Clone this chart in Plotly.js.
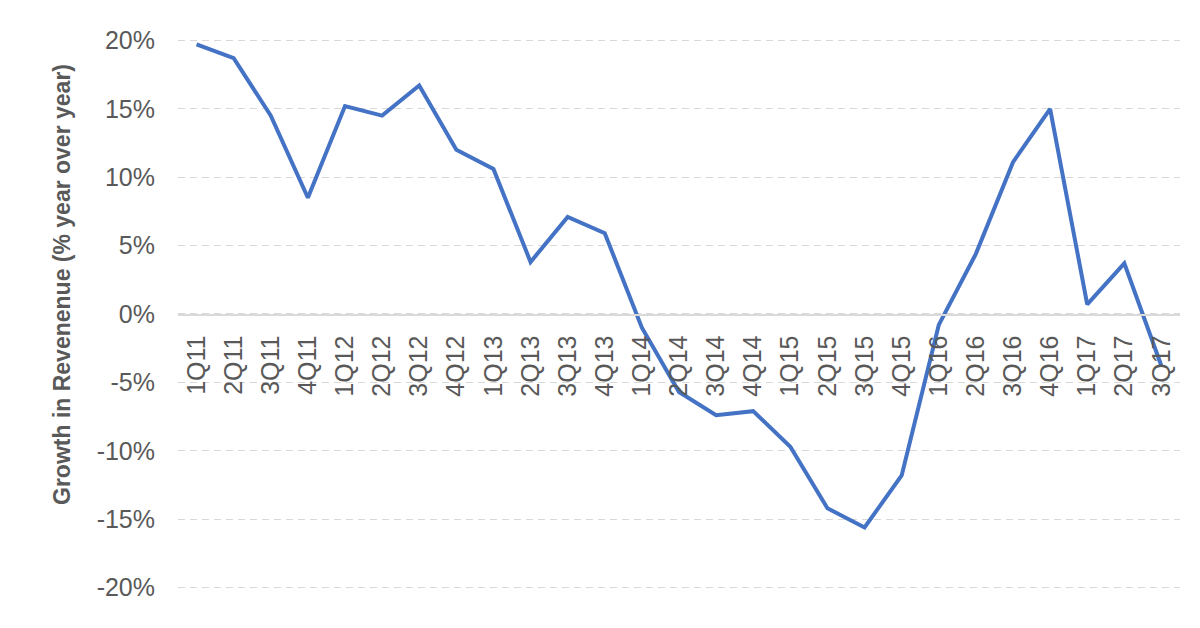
<!DOCTYPE html>
<html>
<head>
<meta charset="utf-8">
<script src="https://cdn.plot.ly/plotly-3.0.1.min.js"></script>
<style>
  html, body { margin: 0; padding: 0; background: #fff; }
  #chart { width: 1200px; height: 628px; }
</style>
</head>
<body>
<div id="chart"></div>
<script>
"use strict";

// Quarters, 1Q11 .. 3Q17
const quarters = [
  "1Q11", "2Q11", "3Q11", "4Q11",
  "1Q12", "2Q12", "3Q12", "4Q12",
  "1Q13", "2Q13", "3Q13", "4Q13",
  "1Q14", "2Q14", "3Q14", "4Q14",
  "1Q15", "2Q15", "3Q15", "4Q15",
  "1Q16", "2Q16", "3Q16", "4Q16",
  "1Q17", "2Q17", "3Q17",
];

// Revenue growth, % year over year
const growth = [
  19.7, 18.7, 14.5, 8.5,
  15.2, 14.5, 16.7, 12.0,
  10.6, 3.8, 7.1, 5.9,
  -1.0, -5.7, -7.4, -7.1,
  -9.7, -14.2, -15.6, -11.8,
  -0.8, 4.4, 11.1, 15.0,
  0.7, 3.7, -3.8,
];

const yTicks = [-20, -15, -10, -5, 0, 5, 10, 15, 20];
const yTickText = yTicks.map((v) => v + "%");

const LINE = "#4472C4";
const TEXT = "#595959";
const GRID = "#d9d9d9";

const trace = {
  type: "scatter",
  mode: "lines",
  x: quarters,
  y: growth,
  line: { color: LINE, width: 4 },
  hovertemplate: "%{x}: %{y:.1f}%<extra></extra>",
};

const layout = {
  width: 1200,
  height: 628,
  paper_bgcolor: "#ffffff",
  plot_bgcolor: "#ffffff",
  font: { family: "Liberation Sans, Arial, sans-serif", color: TEXT, size: 25 },
  showlegend: false,
  margin: { l: 178, r: 20, t: 39, b: 39 },
  xaxis: {
    type: "category",
    range: [-0.5, quarters.length - 0.5],
    anchor: "free",
    position: 0.5, // axis crosses at 0%
    showgrid: false,
    zeroline: false,
    showline: true,
    linecolor: GRID,
    linewidth: 1.5,
    ticks: "",
    tickangle: -90,
    ticklabelstandoff: 10,
    tickfont: { size: 25, color: TEXT },
    automargin: false,
  },
  yaxis: {
    // a hair wider than ±20% so the end gridlines are drawn
    range: [-20.1, 20.1],
    tickvals: yTicks,
    ticktext: yTickText,
    showgrid: true,
    gridcolor: GRID,
    gridwidth: 1.2,
    griddash: "7px,5px",
    zeroline: false,
    showline: false,
    ticks: "",
    ticklabelstandoff: 22,
    tickfont: { size: 25, color: TEXT },
    automargin: false,
  },
  annotations: [
    {
      text: "Growth in Revenenue (% year over year)",
      xref: "paper",
      yref: "paper",
      x: (62 - 178) / 1002,
      y: (589 - 285) / 550,
      xanchor: "center",
      yanchor: "middle",
      textangle: -90,
      showarrow: false,
      font: { size: 23, color: TEXT, family: "Liberation Sans, Arial, sans-serif", weight: "bold" },
    },
  ],
};

Plotly.newPlot("chart", [trace], layout, { displayModeBar: false, staticPlot: true });
</script>
</body>
</html>
